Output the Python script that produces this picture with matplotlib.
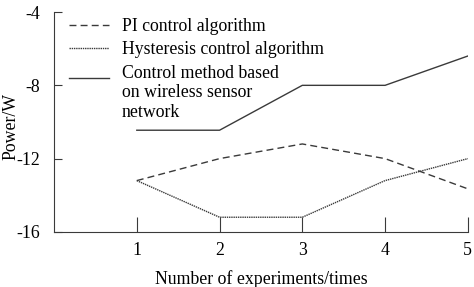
import matplotlib
matplotlib.use("Agg")
import matplotlib.pyplot as plt

plt.rcParams['font.family'] = ['Liberation Serif', 'DejaVu Serif']
plt.rcParams['axes.unicode_minus'] = False

experiments = [1, 2, 3, 4, 5]
pi_power = [-13.2, -12.0, -11.2, -12.0, -13.65]
hyst_power = [-13.2, -15.2, -15.2, -13.2, -12.0]
wsn_power = [-10.45, -10.45, -8.0, -8.0, -6.4]
labels = ["PI control algorithm",
          "Hysteresis control algorithm",
          "Control method based\non wireless sensor\nnetwork"]
yticks = [-16, -12, -8, -4]

fig = plt.figure(figsize=(4.74, 2.87), dpi=100)
ax = fig.add_axes([0.114, 0.192, 0.873, 0.766])
c = '#3a3a3a'
ax.plot(experiments, pi_power, color=c, lw=1.0, ls=(0, (5, 3)), label=labels[0])
ax.plot(experiments, hyst_power, color=c, lw=1.0, ls=(0, (1, 0.6)), label=labels[1])
ax.plot(experiments, wsn_power, color=c, lw=1.0, ls='-', label=labels[2])

ax.set_xlim(0, 5)
ax.set_ylim(-16, -4)
ax.set_xticks(experiments)
ax.set_yticks(yticks)
ax.spines['top'].set_visible(False)
ax.spines['right'].set_visible(False)
for s in ['left', 'bottom']:
    ax.spines[s].set_color(c)
ax.tick_params(axis='x', direction='in', length=11, color=c, labelsize=12.8, pad=7)
ax.tick_params(axis='y', direction='in', length=6, color=c, labelsize=12.8, pad=10)
ax.set_xlabel("Number of experiments/times", fontsize=12.8, labelpad=8)
ax.set_ylabel("Power/W", fontsize=12.8, va='center')
ax.yaxis.set_label_coords(-0.105, 0.48)

leg = ax.legend(loc='upper left', bbox_to_anchor=(0.02, 1.005), frameon=False,
                fontsize=12.8, handlelength=2.25, handletextpad=0.7, labelspacing=0.35,
                borderaxespad=0)
# move the last handle up next to the first lines of its label
h = leg.legend_handles[2]
yd = h.get_ydata()
h.set_ydata([v + 11 for v in yd])

fig.savefig("out.png", dpi=100)
